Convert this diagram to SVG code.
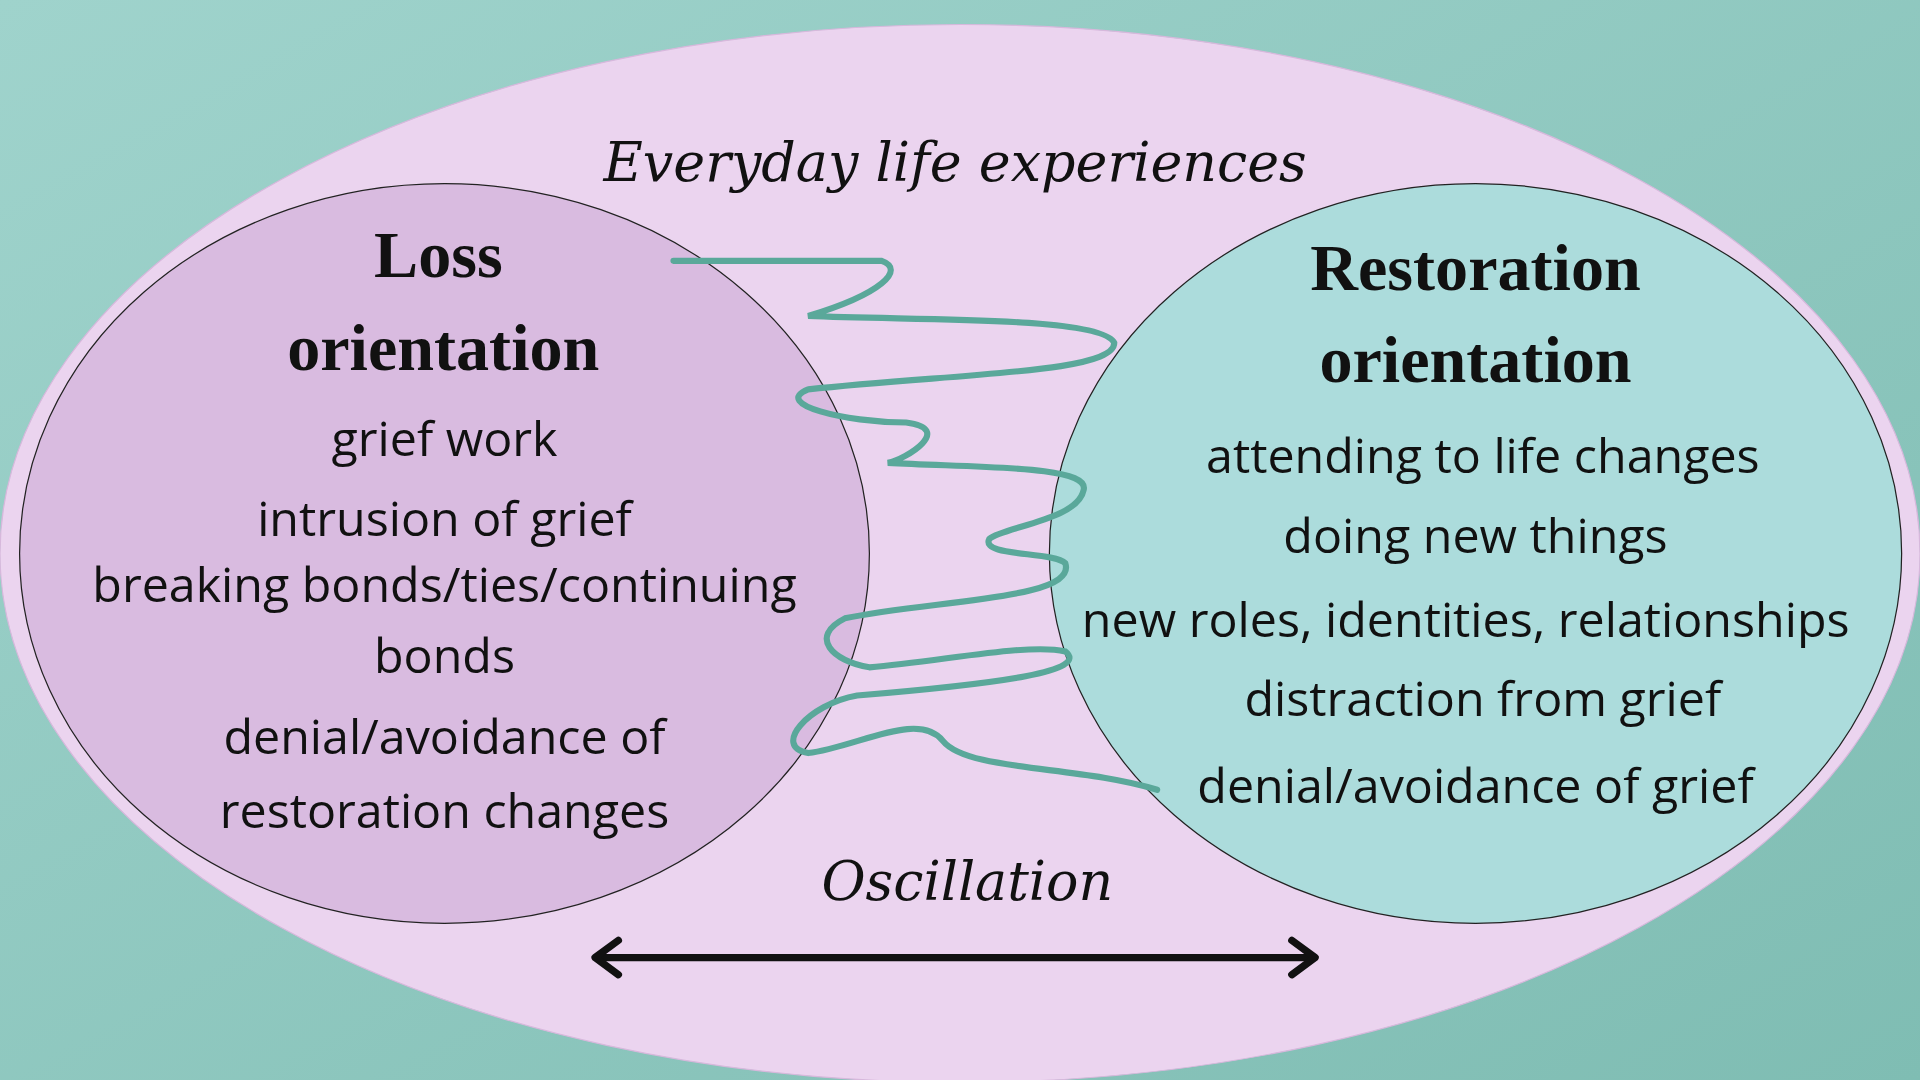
<svg xmlns="http://www.w3.org/2000/svg" width="1920" height="1080" viewBox="0 0 1920 1080">
<defs>
<linearGradient id="bg" x1="0" y1="0" x2="1" y2="1"><stop offset="0" stop-color="#9fd3cc"/><stop offset="1" stop-color="#7fbdb3"/></linearGradient>
<style>
.t{font-family:"Open Sans","Liberation Sans",sans-serif;font-size:39.5px;fill:#111;text-anchor:middle}
.h{font-family:"Liberation Serif",serif;font-weight:bold;font-size:54px;fill:#111;text-anchor:middle}
.s{font-family:"DejaVu Serif",serif;font-style:italic;font-size:44px;fill:#111;text-anchor:middle}
</style>
</defs>
<g transform="scale(1.22449)">
<rect width="1568" height="882" fill="url(#bg)"/>
<g id="everyday"><ellipse cx="784" cy="452" rx="784" ry="432" fill="#ebd4ef" stroke="#d7b8dc"/>
<text class="s" x="780" y="148">Everyday life experiences</text></g>
<g id="loss"><ellipse cx="363" cy="452" rx="347" ry="302" fill="#d9bbe0" stroke="#222" stroke-width="1"/>
<text class="h" x="358" y="226">Loss</text><text class="h" x="362" y="302">orientation</text>
<text class="t" x="363" y="372">grief work</text>
<text class="t" x="363" y="438">intrusion of grief</text>
<text class="t" x="363" y="492">breaking bonds/ties/continuing</text>
<text class="t" x="363" y="550">bonds</text>
<text class="t" x="363" y="616">denial/avoidance of</text>
<text class="t" x="363" y="676">restoration changes</text></g>
<g id="restoration"><ellipse cx="1205" cy="452" rx="348" ry="302" fill="#acdcdc" stroke="#222" stroke-width="1"/>
<text class="h" x="1205" y="237">Restoration</text><text class="h" x="1205" y="312">orientation</text>
<text class="t" x="1211" y="386">attending to life changes</text>
<text class="t" x="1205" y="452">doing new things</text>
<text class="t" x="1197" y="520">new roles, identities, relationships</text>
<text class="t" x="1211" y="585">distraction from grief</text>
<text class="t" x="1205" y="656">denial/avoidance of grief</text></g>
<g id="connectors" fill="none">
<path d="M550 213 L720 213 C740 220 720 240 660 258 C750 262 900 258 910 280 C910 305 780 305 660 318 C630 330 690 345 740 345 C780 350 740 375 725 378 C800 382 890 380 885 400 C880 425 820 430 808 440 C800 455 860 450 870 460 C880 490 760 490 690 505 C660 520 680 540 710 545 C770 540 840 525 870 532 C890 548 820 558 700 568 C660 575 630 610 660 615 C700 610 750 580 770 605 C790 630 880 625 945 645" stroke="#5aa89a" stroke-width="5" stroke-linecap="round"/>
<line x1="488" y1="782" x2="1072" y2="782" stroke="#111" stroke-width="6"/>
<polyline points="505,768 486,782 505,796" stroke="#111" stroke-width="6" stroke-linecap="round" stroke-linejoin="round"/>
<polyline points="1055,768 1074,782 1055,796" stroke="#111" stroke-width="6" stroke-linecap="round" stroke-linejoin="round"/>
</g>
<g id="oscillation"><text class="s" x="790" y="735">Oscillation</text></g>
</g>
</svg>
